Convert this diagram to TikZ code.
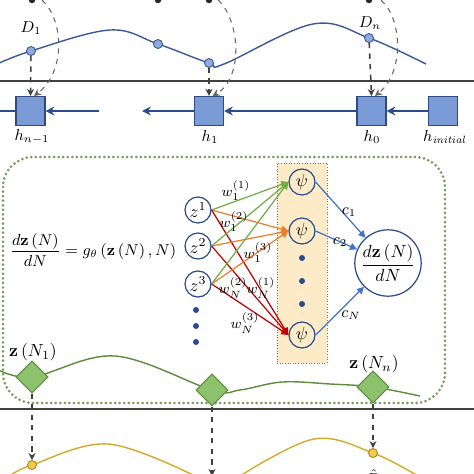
\documentclass[tikz,border=0pt]{standalone}
\usepackage{amsmath}
\usepackage{amssymb}
\usepackage{tikz}
\usetikzlibrary{arrows.meta}
\usetikzlibrary{positioning,shapes.geometric}

\definecolor{curveblue}{HTML}{3B5998}
\definecolor{dotblue}{HTML}{8FAADC}
\definecolor{boxfill}{HTML}{7B9BD6}
\definecolor{boxedge}{HTML}{2F4A80}
\definecolor{navy}{HTML}{2B4C8C}
\definecolor{wgreen}{HTML}{70AD47}
\definecolor{worange}{HTML}{ED7D31}
\definecolor{wred}{HTML}{C00000}
\definecolor{cblue}{HTML}{4472C4}
\definecolor{colfill}{HTML}{FDEBC8}
\definecolor{odegreen}{HTML}{5E8C3E}
\definecolor{diafill}{HTML}{8DC26C}
\definecolor{diaedge}{HTML}{5E8C3E}
\definecolor{yline}{HTML}{D4A82A}
\definecolor{yfill}{HTML}{F6C94A}

\begin{document}
\begin{tikzpicture}[x=0.02cm,y=-0.02cm,
	hbox/.style={draw=boxedge,fill=boxfill,line width=0.6pt,minimum size=0.58cm,inner sep=0pt},
	cdot/.style={circle,draw=curveblue,fill=dotblue,line width=0.5pt,minimum size=0.18cm,inner sep=0pt},
	ydot/.style={circle,draw=yline!80!black,fill=yfill,line width=0.5pt,minimum size=0.18cm,inner sep=0pt},
	blackdot/.style={circle,fill=black!85,minimum size=0.13cm,inner sep=0pt},
	neuron/.style={circle,draw=navy,line width=0.7pt,minimum size=0.52cm,inner sep=0pt},
	bdot/.style={circle,fill=navy,minimum size=0.12cm,inner sep=0pt},
	zdiam/.style={diamond,draw=diaedge,fill=diafill,line width=0.6pt,minimum size=0.64cm,inner sep=0pt},
	drop/.style={-{Stealth[length=4pt,width=4pt]},dashed,line width=0.9pt,draw=black!75},
	backarc/.style={-{Stealth[length=4pt,width=4pt]},dashed,line width=0.6pt,draw=black!60},
	wire/.style={-{Triangle[length=4pt,width=4pt]},line width=0.7pt},
	hlabel/.style={font=\small}
	]
	\clip (0,0) rectangle (474,474);
	\useasboundingbox (0,0) rectangle (474,474);

	%%top part
	\node[blackdot] (t1) at (32,0) {};
	\node[blackdot] (t2) at (158,0) {};
	\node[blackdot] (t3) at (209,0) {};
	\node[blackdot] (t4) at (369,0) {};
	\draw[curveblue, line width=0.8pt] plot[smooth, tension=0.6] coordinates {(-5,65) (31,51) (110,30) (158,44) (209,63) (224,64) (313,24) (369,38) (426,64)};
	\node[cdot] (D1) at (31,51) {};
	\node[cdot] (Dm) at (158,44) {};
	\node[cdot] (D2) at (209,63) {};
	\node[cdot] (Dn) at (369,38) {};
	\node[font=\small] at (31,28) {$D_1$};
	\node[font=\small] at (370,23) {$D_n$};
	\draw[black!75, line width=1.1pt] (0,81) -- (474,81);

	%%hidden states
	\node[hbox] (hn) at (30.5,111) {};
	\node[hbox] (h1) at (209,111) {};
	\node[hbox] (h0) at (371.5,111) {};
	\node[hbox] (hi) at (443,111) {};
	\node[hlabel] at (32,137) {$h_{n-1}$};
	\node[hlabel] at (210,137) {$h_1$};
	\node[hlabel] at (372,137) {$h_0$};
	\node[hlabel] at (445,137) {$h_{\mathit{initial}}$};
	\coordinate (gapr) at (142,111);
	\coordinate (gapl) at (99,111);
	\coordinate (edge) at (0,111);
	\draw[-{Stealth[length=5pt,width=5pt]}, navy, line width=0.9pt] (hi.west) -- (h0.east);
	\draw[-{Stealth[length=5pt,width=5pt]}, navy, line width=0.9pt] (h0.west) -- (h1.east);
	\draw[-{Stealth[length=5pt,width=5pt]}, navy, line width=0.9pt] (h1.west) -- (gapr);
	\draw[-{Stealth[length=5pt,width=5pt]}, navy, line width=0.9pt] (gapl) -- (hn.east);
	\draw[navy, line width=0.9pt] (hn.west) -- (edge);
	\draw[drop] (D1) -- (hn.north);
	\draw[drop] (D2) -- (h1.north);
	\draw[drop] (Dn) -- (h0.north);
	\draw[backarc] (t1) ++(10,0) .. controls (64,20) and (66,72) .. ([xshift=2pt]hn.north);
	\draw[backarc] (t3) ++(9,0) .. controls (240,20) and (244,78) .. ([xshift=2pt]h1.north);
	\draw[backarc] (t4) ++(12,0) .. controls (402,18) and (405,72) .. ([xshift=2pt]h0.north);

	%%ode block
	\draw[odegreen!85, line width=1.7pt, dash pattern=on 0pt off 2.6pt, line cap=round, rounded corners=0.6cm] (3,157) rectangle (445,403);
	\node[fill=colfill, draw=black!55, densely dotted, line width=0.5pt, minimum width=1cm, minimum height=4cm, inner sep=0pt] (col) at (302,263) {};
	\node[font=\small] (ode) at (93,250) {$\dfrac{d\mathbf{z}\left(N\right)}{dN} = g_{\theta}\left(\mathbf{z}\left(N\right),N\right)$};
	\node[neuron, fill=white] (z1) at (198,210) {$z^1$};
	\node[neuron, fill=white] (z2) at (198,246) {$z^2$};
	\node[neuron, fill=white] (z3) at (198,284) {$z^3$};
	\node[bdot] (zd1) at (196,310) {};
	\node[bdot] (zd2) at (196,326) {};
	\node[bdot] (zd3) at (196,342) {};
	\node[neuron] (p1) at (302,182) {$\psi$};
	\node[neuron] (p2) at (302,231) {$\psi$};
	\node[neuron] (p3) at (302,335) {$\psi$};
	\node[bdot] (pd1) at (302,258) {};
	\node[bdot] (pd2) at (302,281) {};
	\node[bdot] (pd3) at (302,304) {};
	\node[neuron, minimum size=1.28cm] (out) at (388,263) {$\dfrac{d\mathbf{z}\left(N\right)}{dN}$};
	\foreach \z in {z1,z2,z3}{
		\draw[wire, wgreen] (\z.east) -- (p1.west);
		\draw[wire, worange] (\z.east) -- (p2.west);
		\draw[wire, wred] (\z.east) -- (p3.west);
	}
	\node[font=\footnotesize] at (236,191) {$w_1^{(1)}$};
	\node[font=\footnotesize] at (234,222) {$w_1^{(2)}$};
	\node[font=\footnotesize] at (258,253) {$w_1^{(3)}$};
	\node[font=\footnotesize] at (233,288) {$w_N^{(2)}$};
	\node[font=\footnotesize] at (261,288) {$w_N^{(1)}$};
	\node[font=\footnotesize] at (245,323) {$w_N^{(3)}$};
	\draw[wire, cblue] (p1.east) -- (out);
	\draw[wire, cblue] (p2.east) -- (out);
	\draw[wire, cblue] (p3.east) -- (out);
	\node[font=\small] at (349,212) {$c_1$};
	\node[font=\small] at (340,242) {$c_2$};
	\node[font=\small] at (351,315) {$c_N$};

	%%latent trajectory
	\draw[odegreen, line width=0.8pt] plot[smooth, tension=0.6] coordinates {(-5,368) (32,377) (115,356) (212,390) (240,390) (282,382) (330,384) (373,387) (420,396)};
	\node[zdiam] (zN1) at (32,377) {};
	\node[zdiam] (zNm) at (212,390) {};
	\node[zdiam] (zNn) at (373,387) {};
	\node at (33,352) {$\mathbf{z}\left(N_1\right)$};
	\node at (374,364) {$\mathbf{z}\left(N_n\right)$};
	\draw[black!75, line width=1.1pt] (0,409) -- (474,409);

	%%outputs
	\draw[yline, line width=0.8pt] plot[smooth, tension=0.6] coordinates {(10,476) (32,465) (108,444) (195,476)};
	\draw[yline, line width=0.8pt] plot[smooth, tension=0.6] coordinates {(240,476) (314,439) (373,453) (418,476)};
	\node[ydot] (y1) at (32,465) {};
	\node[ydot] (yn) at (373,453) {};
	\coordinate (ym) at (212,476);
	\node[font=\small] at (373,477) {$\hat{D}$};
	\draw[drop] (zN1.south) -- (y1);
	\draw[drop] (zNm.south) -- (ym);
	\draw[drop] (zNn.south) -- (yn);
\end{tikzpicture}
\end{document}
